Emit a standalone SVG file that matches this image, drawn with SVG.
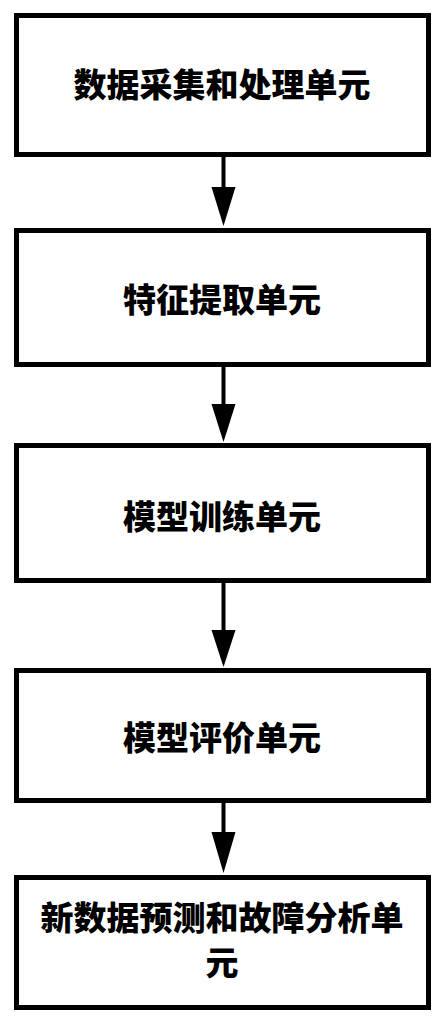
<svg xmlns="http://www.w3.org/2000/svg" width="446" height="1026" viewBox="0 0 446 1026">
<style>
.box{fill:#fff;stroke:#000;stroke-width:5}
.lbl{font-family:"Noto Sans CJK SC","Noto Sans CJK TC",sans-serif;font-weight:900;font-size:33px;text-anchor:middle;fill:#000}
.ln{stroke:#000;stroke-width:4;fill:none}
.hd{fill:#000}
</style>
<rect width="446" height="1026" fill="#fff"/>
<g id="connectors">
<line class="ln" x1="223.5" y1="157" x2="223.5" y2="195"/>
<polygon class="hd" points="211.5,187 235.5,187 223.5,226"/>
<line class="ln" x1="223.5" y1="367" x2="223.5" y2="412"/>
<polygon class="hd" points="211.5,404 235.5,404 223.5,442"/>
<line class="ln" x1="223.5" y1="583" x2="223.5" y2="638"/>
<polygon class="hd" points="211.5,630 235.5,630 223.5,667"/>
<line class="ln" x1="223.5" y1="803" x2="223.5" y2="840"/>
<polygon class="hd" points="211.5,832 235.5,832 223.5,873"/>
</g>
<g id="n1">
<rect class="box" x="16.5" y="15.5" width="412" height="139"/>
<text class="lbl" x="222" y="97">数据采集和处理单元</text>
</g>
<g id="n2">
<rect class="box" x="16.5" y="230.5" width="412" height="134"/>
<text class="lbl" x="222" y="312">特征提取单元</text>
</g>
<g id="n3">
<rect class="box" x="16.5" y="445.5" width="412" height="135"/>
<text class="lbl" x="222" y="529">模型训练单元</text>
</g>
<g id="n4">
<rect class="box" x="16.5" y="670.5" width="412" height="130"/>
<text class="lbl" x="222" y="750">模型评价单元</text>
</g>
<g id="n5">
<rect class="box" x="16.5" y="877.5" width="412" height="130"/>
<text class="lbl" x="222" y="930">新数据预测和故障分析单</text>
<text class="lbl" x="222" y="975">元</text>
</g>
</svg>
